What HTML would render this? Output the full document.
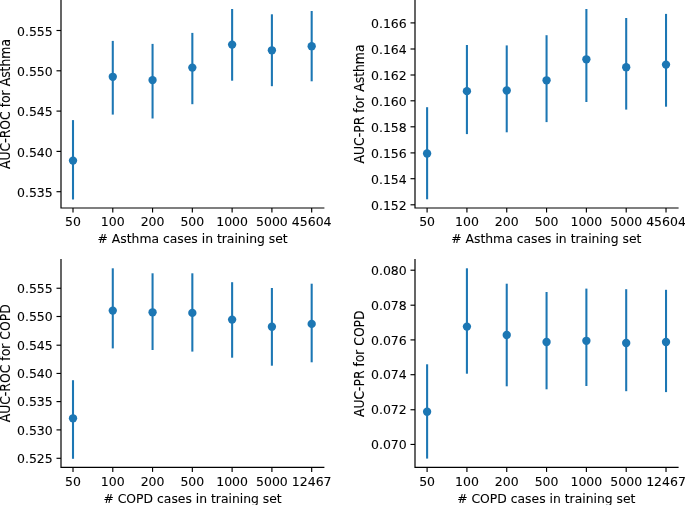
<!DOCTYPE html>
<html lang="en">
<head>
<meta charset="utf-8">
<title>AUC vs number of training cases</title>
<style>
html,body{margin:0;padding:0;background:#fff;}
body{width:685px;height:505px;overflow:hidden;}
svg{display:block;}
text{font-family:"DejaVu Sans","Liberation Sans",sans-serif;font-size:13.1px;fill:#000;stroke:#000;stroke-width:0.1px;}
text.yl{font-size:13.3px;}
.sp{stroke:#000;stroke-width:1.2;fill:none;stroke-linecap:square;}
.tk{stroke:#000;stroke-width:1.15;fill:none;}
.eb{stroke:#1f77b4;stroke-width:2.08;fill:none;}
.mk{fill:#1f77b4;stroke:none;}
</style>
</head>
<body>
<svg width="685" height="505" viewBox="0 0 685 505">
<defs><filter id="soft" x="0" y="0" width="685" height="505" filterUnits="userSpaceOnUse"><feGaussianBlur stdDeviation="0.4"/></filter></defs>
<rect x="0" y="0" width="685" height="505" fill="#ffffff"/>
<g filter="url(#soft)">
<g id="TL">
<path class="sp" d="M61.00 -5.00V208.00H323.80"/>
<path class="tk" d="M61.00 30.50h-4.50"/><text x="52.75" y="35.65" text-anchor="end" textLength="35.78" lengthAdjust="spacingAndGlyphs">0.555</text>
<path class="tk" d="M61.00 70.80h-4.50"/><text x="52.75" y="75.95" text-anchor="end" textLength="35.78" lengthAdjust="spacingAndGlyphs">0.550</text>
<path class="tk" d="M61.00 111.10h-4.50"/><text x="52.75" y="116.25" text-anchor="end" textLength="35.78" lengthAdjust="spacingAndGlyphs">0.545</text>
<path class="tk" d="M61.00 151.40h-4.50"/><text x="52.75" y="156.55" text-anchor="end" textLength="35.78" lengthAdjust="spacingAndGlyphs">0.540</text>
<path class="tk" d="M61.00 191.70h-4.50"/><text x="52.75" y="196.85" text-anchor="end" textLength="35.78" lengthAdjust="spacingAndGlyphs">0.535</text>
<path class="tk" d="M73.00 208.00v4.50"/><text x="73.00" y="226.45" text-anchor="middle" textLength="15.91" lengthAdjust="spacingAndGlyphs">50</text>
<path class="tk" d="M112.78 208.00v4.50"/><text x="112.78" y="226.45" text-anchor="middle" textLength="23.86" lengthAdjust="spacingAndGlyphs">100</text>
<path class="tk" d="M152.56 208.00v4.50"/><text x="152.56" y="226.45" text-anchor="middle" textLength="23.86" lengthAdjust="spacingAndGlyphs">200</text>
<path class="tk" d="M192.34 208.00v4.50"/><text x="192.34" y="226.45" text-anchor="middle" textLength="23.86" lengthAdjust="spacingAndGlyphs">500</text>
<path class="tk" d="M232.12 208.00v4.50"/><text x="232.12" y="226.45" text-anchor="middle" textLength="31.81" lengthAdjust="spacingAndGlyphs">1000</text>
<path class="tk" d="M271.90 208.00v4.50"/><text x="271.90" y="226.45" text-anchor="middle" textLength="31.81" lengthAdjust="spacingAndGlyphs">5000</text>
<path class="tk" d="M311.68 208.00v4.50"/><text x="311.68" y="226.45" text-anchor="middle" textLength="39.77" lengthAdjust="spacingAndGlyphs">45604</text>
<path class="eb" d="M73.00 120.10V199.50"/><circle class="mk" cx="73.00" cy="160.60" r="4.17"/>
<path class="eb" d="M112.78 40.90V114.60"/><circle class="mk" cx="112.78" cy="76.80" r="4.17"/>
<path class="eb" d="M152.56 43.90V118.50"/><circle class="mk" cx="152.56" cy="80.10" r="4.17"/>
<path class="eb" d="M192.34 32.90V104.20"/><circle class="mk" cx="192.34" cy="67.60" r="4.17"/>
<path class="eb" d="M232.12 9.00V80.70"/><circle class="mk" cx="232.12" cy="44.60" r="4.17"/>
<path class="eb" d="M271.90 14.30V86.20"/><circle class="mk" cx="271.90" cy="50.30" r="4.17"/>
<path class="eb" d="M311.68 11.00V81.30"/><circle class="mk" cx="311.68" cy="46.20" r="4.17"/>
<text x="192.60" y="243.20" text-anchor="middle" textLength="190.14" lengthAdjust="spacingAndGlyphs"># Asthma cases in training set</text>
<text class="yl" transform="translate(10.00 104.00) rotate(-90)" text-anchor="middle" textLength="130.01" lengthAdjust="spacingAndGlyphs">AUC-ROC for Asthma</text>
</g>
<g id="TR">
<path class="sp" d="M415.00 -5.00V208.00H678.00"/>
<path class="tk" d="M415.00 22.90h-4.50"/><text x="406.75" y="28.05" text-anchor="end" textLength="35.78" lengthAdjust="spacingAndGlyphs">0.166</text>
<path class="tk" d="M415.00 49.00h-4.50"/><text x="406.75" y="54.15" text-anchor="end" textLength="35.78" lengthAdjust="spacingAndGlyphs">0.164</text>
<path class="tk" d="M415.00 75.00h-4.50"/><text x="406.75" y="80.15" text-anchor="end" textLength="35.78" lengthAdjust="spacingAndGlyphs">0.162</text>
<path class="tk" d="M415.00 100.80h-4.50"/><text x="406.75" y="105.95" text-anchor="end" textLength="35.78" lengthAdjust="spacingAndGlyphs">0.160</text>
<path class="tk" d="M415.00 126.80h-4.50"/><text x="406.75" y="131.95" text-anchor="end" textLength="35.78" lengthAdjust="spacingAndGlyphs">0.158</text>
<path class="tk" d="M415.00 152.90h-4.50"/><text x="406.75" y="158.05" text-anchor="end" textLength="35.78" lengthAdjust="spacingAndGlyphs">0.156</text>
<path class="tk" d="M415.00 178.70h-4.50"/><text x="406.75" y="183.85" text-anchor="end" textLength="35.78" lengthAdjust="spacingAndGlyphs">0.154</text>
<path class="tk" d="M415.00 204.80h-4.50"/><text x="406.75" y="209.95" text-anchor="end" textLength="35.78" lengthAdjust="spacingAndGlyphs">0.152</text>
<path class="tk" d="M427.10 208.00v4.50"/><text x="427.10" y="226.45" text-anchor="middle" textLength="15.91" lengthAdjust="spacingAndGlyphs">50</text>
<path class="tk" d="M466.92 208.00v4.50"/><text x="466.92" y="226.45" text-anchor="middle" textLength="23.86" lengthAdjust="spacingAndGlyphs">100</text>
<path class="tk" d="M506.74 208.00v4.50"/><text x="506.74" y="226.45" text-anchor="middle" textLength="23.86" lengthAdjust="spacingAndGlyphs">200</text>
<path class="tk" d="M546.56 208.00v4.50"/><text x="546.56" y="226.45" text-anchor="middle" textLength="23.86" lengthAdjust="spacingAndGlyphs">500</text>
<path class="tk" d="M586.38 208.00v4.50"/><text x="586.38" y="226.45" text-anchor="middle" textLength="31.81" lengthAdjust="spacingAndGlyphs">1000</text>
<path class="tk" d="M626.20 208.00v4.50"/><text x="626.20" y="226.45" text-anchor="middle" textLength="31.81" lengthAdjust="spacingAndGlyphs">5000</text>
<path class="tk" d="M666.02 208.00v4.50"/><text x="666.02" y="226.45" text-anchor="middle" textLength="39.77" lengthAdjust="spacingAndGlyphs">45604</text>
<path class="eb" d="M427.10 107.20V199.30"/><circle class="mk" cx="427.10" cy="153.50" r="4.17"/>
<path class="eb" d="M466.92 45.00V134.10"/><circle class="mk" cx="466.92" cy="91.15" r="4.17"/>
<path class="eb" d="M506.74 45.40V132.30"/><circle class="mk" cx="506.74" cy="90.50" r="4.17"/>
<path class="eb" d="M546.56 35.20V122.10"/><circle class="mk" cx="546.56" cy="80.30" r="4.17"/>
<path class="eb" d="M586.38 9.00V102.00"/><circle class="mk" cx="586.38" cy="59.30" r="4.17"/>
<path class="eb" d="M626.20 18.00V109.60"/><circle class="mk" cx="626.20" cy="67.20" r="4.17"/>
<path class="eb" d="M666.02 13.90V106.70"/><circle class="mk" cx="666.02" cy="64.60" r="4.17"/>
<text x="546.30" y="243.20" text-anchor="middle" textLength="190.14" lengthAdjust="spacingAndGlyphs"># Asthma cases in training set</text>
<text class="yl" transform="translate(364.00 104.00) rotate(-90)" text-anchor="middle" textLength="119.07" lengthAdjust="spacingAndGlyphs">AUC-PR for Asthma</text>
</g>
<g id="BL">
<path class="sp" d="M61.00 259.50V467.40H323.80"/>
<path class="tk" d="M61.00 288.25h-4.50"/><text x="52.75" y="293.30" text-anchor="end" textLength="35.78" lengthAdjust="spacingAndGlyphs">0.555</text>
<path class="tk" d="M61.00 316.50h-4.50"/><text x="52.75" y="321.15" text-anchor="end" textLength="35.78" lengthAdjust="spacingAndGlyphs">0.550</text>
<path class="tk" d="M61.00 345.20h-4.50"/><text x="52.75" y="349.65" text-anchor="end" textLength="35.78" lengthAdjust="spacingAndGlyphs">0.545</text>
<path class="tk" d="M61.00 373.45h-4.50"/><text x="52.75" y="378.05" text-anchor="end" textLength="35.78" lengthAdjust="spacingAndGlyphs">0.540</text>
<path class="tk" d="M61.00 401.60h-4.50"/><text x="52.75" y="406.45" text-anchor="end" textLength="35.78" lengthAdjust="spacingAndGlyphs">0.535</text>
<path class="tk" d="M61.00 429.90h-4.50"/><text x="52.75" y="434.75" text-anchor="end" textLength="35.78" lengthAdjust="spacingAndGlyphs">0.530</text>
<path class="tk" d="M61.00 458.30h-4.50"/><text x="52.75" y="463.15" text-anchor="end" textLength="35.78" lengthAdjust="spacingAndGlyphs">0.525</text>
<path class="tk" d="M73.00 467.40v4.50"/><text x="73.00" y="485.85" text-anchor="middle" textLength="15.91" lengthAdjust="spacingAndGlyphs">50</text>
<path class="tk" d="M112.78 467.40v4.50"/><text x="112.78" y="485.85" text-anchor="middle" textLength="23.86" lengthAdjust="spacingAndGlyphs">100</text>
<path class="tk" d="M152.56 467.40v4.50"/><text x="152.56" y="485.85" text-anchor="middle" textLength="23.86" lengthAdjust="spacingAndGlyphs">200</text>
<path class="tk" d="M192.34 467.40v4.50"/><text x="192.34" y="485.85" text-anchor="middle" textLength="23.86" lengthAdjust="spacingAndGlyphs">500</text>
<path class="tk" d="M232.12 467.40v4.50"/><text x="232.12" y="485.85" text-anchor="middle" textLength="31.81" lengthAdjust="spacingAndGlyphs">1000</text>
<path class="tk" d="M271.90 467.40v4.50"/><text x="271.90" y="485.85" text-anchor="middle" textLength="31.81" lengthAdjust="spacingAndGlyphs">5000</text>
<path class="tk" d="M311.68 467.40v4.50"/><text x="311.68" y="485.85" text-anchor="middle" textLength="39.77" lengthAdjust="spacingAndGlyphs">12467</text>
<path class="eb" d="M73.00 380.20V458.80"/><circle class="mk" cx="73.00" cy="418.30" r="4.17"/>
<path class="eb" d="M112.78 268.30V348.40"/><circle class="mk" cx="112.78" cy="310.60" r="4.17"/>
<path class="eb" d="M152.56 273.30V350.00"/><circle class="mk" cx="152.56" cy="312.30" r="4.17"/>
<path class="eb" d="M192.34 273.30V351.60"/><circle class="mk" cx="192.34" cy="312.90" r="4.17"/>
<path class="eb" d="M232.12 282.20V357.70"/><circle class="mk" cx="232.12" cy="319.60" r="4.17"/>
<path class="eb" d="M271.90 288.00V365.70"/><circle class="mk" cx="271.90" cy="326.70" r="4.17"/>
<path class="eb" d="M311.68 283.70V362.30"/><circle class="mk" cx="311.68" cy="323.90" r="4.17"/>
<text x="192.60" y="502.60" text-anchor="middle" textLength="178.27" lengthAdjust="spacingAndGlyphs"># COPD cases in training set</text>
<text class="yl" transform="translate(10.00 363.30) rotate(-90)" text-anchor="middle" textLength="118.11" lengthAdjust="spacingAndGlyphs">AUC-ROC for COPD</text>
</g>
<g id="BR">
<path class="sp" d="M415.00 259.50V467.40H678.00"/>
<path class="tk" d="M415.00 270.20h-4.50"/><text x="406.75" y="274.75" text-anchor="end" textLength="35.78" lengthAdjust="spacingAndGlyphs">0.080</text>
<path class="tk" d="M415.00 305.20h-4.50"/><text x="406.75" y="309.65" text-anchor="end" textLength="35.78" lengthAdjust="spacingAndGlyphs">0.078</text>
<path class="tk" d="M415.00 339.90h-4.50"/><text x="406.75" y="344.55" text-anchor="end" textLength="35.78" lengthAdjust="spacingAndGlyphs">0.076</text>
<path class="tk" d="M415.00 374.70h-4.50"/><text x="406.75" y="379.35" text-anchor="end" textLength="35.78" lengthAdjust="spacingAndGlyphs">0.074</text>
<path class="tk" d="M415.00 409.75h-4.50"/><text x="406.75" y="414.05" text-anchor="end" textLength="35.78" lengthAdjust="spacingAndGlyphs">0.072</text>
<path class="tk" d="M415.00 444.45h-4.50"/><text x="406.75" y="449.00" text-anchor="end" textLength="35.78" lengthAdjust="spacingAndGlyphs">0.070</text>
<path class="tk" d="M427.10 467.40v4.50"/><text x="427.10" y="485.85" text-anchor="middle" textLength="15.91" lengthAdjust="spacingAndGlyphs">50</text>
<path class="tk" d="M466.92 467.40v4.50"/><text x="466.92" y="485.85" text-anchor="middle" textLength="23.86" lengthAdjust="spacingAndGlyphs">100</text>
<path class="tk" d="M506.74 467.40v4.50"/><text x="506.74" y="485.85" text-anchor="middle" textLength="23.86" lengthAdjust="spacingAndGlyphs">200</text>
<path class="tk" d="M546.56 467.40v4.50"/><text x="546.56" y="485.85" text-anchor="middle" textLength="23.86" lengthAdjust="spacingAndGlyphs">500</text>
<path class="tk" d="M586.38 467.40v4.50"/><text x="586.38" y="485.85" text-anchor="middle" textLength="31.81" lengthAdjust="spacingAndGlyphs">1000</text>
<path class="tk" d="M626.20 467.40v4.50"/><text x="626.20" y="485.85" text-anchor="middle" textLength="31.81" lengthAdjust="spacingAndGlyphs">5000</text>
<path class="tk" d="M666.02 467.40v4.50"/><text x="666.02" y="485.85" text-anchor="middle" textLength="39.77" lengthAdjust="spacingAndGlyphs">12467</text>
<path class="eb" d="M427.10 364.30V458.60"/><circle class="mk" cx="427.10" cy="411.70" r="4.17"/>
<path class="eb" d="M466.92 268.30V373.70"/><circle class="mk" cx="466.92" cy="326.60" r="4.17"/>
<path class="eb" d="M506.74 283.70V386.30"/><circle class="mk" cx="506.74" cy="335.00" r="4.17"/>
<path class="eb" d="M546.56 292.00V389.30"/><circle class="mk" cx="546.56" cy="342.00" r="4.17"/>
<path class="eb" d="M586.38 288.60V386.00"/><circle class="mk" cx="586.38" cy="340.80" r="4.17"/>
<path class="eb" d="M626.20 289.20V391.20"/><circle class="mk" cx="626.20" cy="343.00" r="4.17"/>
<path class="eb" d="M666.02 289.80V392.10"/><circle class="mk" cx="666.02" cy="342.00" r="4.17"/>
<text x="546.30" y="502.60" text-anchor="middle" textLength="178.27" lengthAdjust="spacingAndGlyphs"># COPD cases in training set</text>
<text class="yl" transform="translate(364.00 363.75) rotate(-90)" text-anchor="middle" textLength="106.52" lengthAdjust="spacingAndGlyphs">AUC-PR for COPD</text>
</g>
</g>
</svg>
</body>
</html>
